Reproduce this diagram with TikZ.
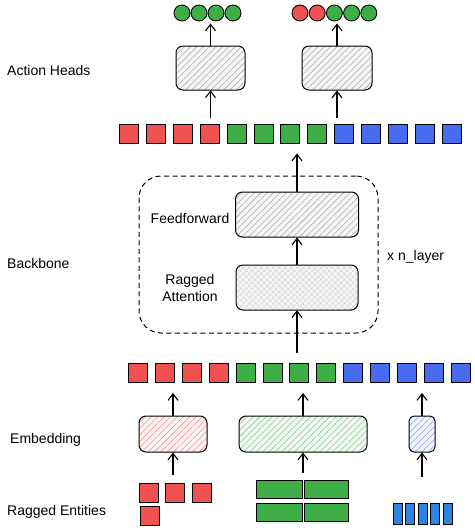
\documentclass[tikz,border=0pt]{standalone}
\usepackage{fontspec}
\setmainfont{Liberation Sans}
\usetikzlibrary{arrows.meta,patterns.meta}
\definecolor{tokred}{RGB}{240,82,82}
\definecolor{tokgreen}{RGB}{62,175,70}
\definecolor{tokblue}{RGB}{72,108,240}
\definecolor{entblue}{RGB}{45,132,228}
\tikzset{
	token/.style={draw=black, line width=0.9pt, minimum size=19pt, inner sep=0pt},
	dot/.style={draw=black, line width=0.9pt, circle, minimum size=16pt, inner sep=0pt},
	block/.style={draw=black, line width=1pt, rounded corners=7pt, inner sep=0pt,
		preaction={fill=#1!7}, pattern={Lines[angle=45, distance=4.5pt, line width=0.55pt]}, pattern color=#1!65},
	arr/.style={line width=1.1pt, -{Straight Barb[length=6.5pt, width=10pt]}},
	lbl/.style={font=\fontsize{14}{16}\selectfont, anchor=west, inner sep=0pt},
}

\begin{document}
\begin{tikzpicture}[x=1pt, y=-1pt]
			%%%%% START %%%%%
			\useasboundingbox (0, 0) rectangle (474, 530);
			
			% token rows
			\foreach \c [count=\i from 0] in {tokred,tokred,tokred,tokred,tokgreen,tokgreen,tokgreen,tokgreen,tokblue,tokblue,tokblue,tokblue,tokblue}
			{
				\node[token, fill=\c] (top\i) at ({129+26.9*\i}, 133.5) {};
				\node[token, fill=\c] (bot\i) at ({138+26.9*\i}, 373) {};
			}
			
			% action heads
			\node[block=gray, minimum width=69pt, minimum height=44pt] (headA) at (210.5, 68) {};
			\node[block=gray, minimum width=70pt, minimum height=44pt] (headB) at (337, 68) {};
			\foreach \c [count=\i] in {tokgreen,tokgreen,tokgreen,tokgreen}
				\node[dot, fill=\c] (outA\i) at ({182+17*(\i-1)}, 13) {};
			\foreach \c [count=\i] in {tokred,tokred,tokgreen,tokgreen,tokgreen}
				\node[dot, fill=\c] (outB\i) at ({300+17.2*(\i-1)}, 13) {};
			\draw[arr, shorten >=2pt] (headA) -- (headA |- outA1.south);
			\draw[arr, shorten >=2pt] (headB) -- (headB |- outB1.south);
			\draw[arr, shorten <=6pt] (headA |- top3.north) -- (headA);
			\draw[arr, shorten <=6pt] (headB |- top7.north) -- (headB);
			
			% backbone
			\node[draw=black, dash pattern=on 5pt off 3.5pt, line width=1pt, rounded corners=22pt, minimum width=239pt, minimum height=157pt] (layer) at (258.5, 254.5) {};
			\node[block=gray, minimum width=123pt, minimum height=45pt] (ff) at (297, 214.5) {};
			\node[draw=black, line width=1pt, rounded corners=7pt, minimum width=122pt, minimum height=45pt,
				preaction={fill=gray!8}, pattern={Hatch[angle=45, distance=4pt, line width=0.4pt]}, pattern color=gray!40] (attn) at (297, 287.5) {};
			\node[font=\fontsize{14}{16}\selectfont] (fflbl) at (190, 218) {Feedforward};
			\node[font=\fontsize{14}{17}\selectfont, align=center] (attnlbl) at (190, 288) {Ragged\\Attention};
			\node[lbl] (nlayer) at (387, 257) {x n\_layer};
			\draw[arr] (attn) -- (ff);
			\draw[arr, shorten >=10pt] (ff) -- (ff |- top6.south);
			\draw[arr, shorten <=10pt] (attn |- bot6.north) -- (attn);
			
			% embedding
			\node[block=tokred, minimum width=68pt, minimum height=36pt] (embR) at (173, 434) {};
			\node[block=tokgreen, minimum width=128pt, minimum height=36pt] (embG) at (303, 434) {};
			\node[block=tokblue, minimum width=26pt, minimum height=36pt, rounded corners=5pt] (embB) at (422, 434) {};
			\draw[arr, shorten >=10pt] (embR) -- (embR |- bot0.south);
			\draw[arr, shorten >=10pt] (embG) -- (embG |- bot0.south);
			\draw[arr, shorten >=10pt] (embB) -- (embB |- bot0.south);
			
			% ragged entities
			\node[token, fill=tokred] (entR1) at (148.5, 492.5) {};
			\node[token, fill=tokred] (entR2) at (175, 492.5) {};
			\node[token, fill=tokred] (entR3) at (202, 492.5) {};
			\node[token, fill=tokred] (entR4) at (149.5, 515.5) {};
			\node[token, fill=tokgreen, minimum width=46pt, minimum height=18pt] (entG1) at (279, 489) {};
			\node[token, fill=tokgreen, minimum width=44pt, minimum height=18pt] (entG2) at (326, 489) {};
			\node[token, fill=tokgreen, minimum width=46pt, minimum height=18pt] (entG3) at (279, 512.5) {};
			\node[token, fill=tokgreen, minimum width=44pt, minimum height=18pt] (entG4) at (326, 512.5) {};
			\foreach \i in {1,...,5}
				\node[token, fill=entblue, minimum width=9pt, minimum height=21pt] (entB\i) at ({397.5+12.5*(\i-1)}, 513.5) {};
			\draw[arr, shorten <=8pt] (embR |- entR1.north) -- (embR);
			\draw[arr, shorten <=7pt] (embG |- entG1.north) -- (embG);
			\draw[arr, shorten <=26pt] (embB |- entB1.north) -- (embB);
			
			% row labels
			\node[lbl] (heads) at (7, 70) {Action Heads};
			\node[lbl] (backbone) at (7, 263) {Backbone};
			\node[lbl] (embedding) at (10, 440) {Embedding};
			\node[lbl] (entities) at (7, 512) {Ragged Entities};
			%%%%% END %%%%%
		\end{tikzpicture}
\end{document}
